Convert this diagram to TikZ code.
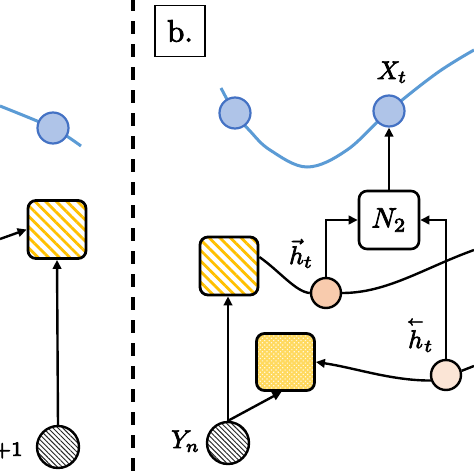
\documentclass[tikz,border=0pt]{standalone}
\usepackage{amsmath}
\usepackage{graphicx}
\usetikzlibrary{arrows.meta,patterns,patterns.meta}
\definecolor{lineblue}{HTML}{5B9BD5}
\definecolor{dotfill}{HTML}{AFC4E8}
\definecolor{dotedge}{HTML}{4472C4}
\definecolor{gold}{HTML}{FFC000}
\definecolor{peach}{HTML}{F8CBAD}
\definecolor{lightpeach}{HTML}{FBE5D6}
\definecolor{meshdots}{HTML}{FFF8E0}
\definecolor{meshyellow}{HTML}{FFD95E}
\newcommand{\thickon}{\special{pdf:literal direct 2 Tr 0.28 w}}
\newcommand{\thickoff}{\special{pdf:literal direct 0 Tr}}
\newcommand{\biglbl}[1]{\scalebox{2.55}{\thickon#1\thickoff}}
\begin{document}
\begin{tikzpicture}[x=1pt,y=-1pt,
  lbl/.style={inner sep=0pt},
  bluedot/.style={circle, draw=dotedge, fill=dotfill, line width=2.2pt, minimum size=31pt, inner sep=0pt},
  blueline/.style={lineblue, line width=3pt},
  hatchbox/.style={draw, rounded corners=8pt, line width=2.8pt, minimum width=58pt, minimum height=58pt, inner sep=0pt,
    preaction={fill=white}, pattern={Lines[angle=-45,distance=7.5pt,line width=2.8pt]}, pattern color=gold},
  meshbox/.style={draw, rounded corners=8pt, line width=2.8pt, minimum width=58pt, minimum height=57pt, inner sep=0pt,
    preaction={fill=meshyellow}, pattern={Dots[angle=45,distance=3.2pt,radius=0.85pt]}, pattern color=meshdots},
  hatchdot/.style={circle, draw, line width=2.4pt, minimum size=42pt, inner sep=0pt,
    preaction={fill=white}, pattern={Lines[angle=-45,distance=3.5pt,line width=0.95pt]}, pattern color=black!85},
  hdot/.style={circle, draw, line width=2.4pt, minimum size=30pt, inner sep=0pt},
  conn/.style={line width=2.4pt},
  arrowconn/.style={line width=2.4pt, -{Triangle[length=9pt,width=8.5pt]}},
]
\fill[white] (0,0) rectangle (474,474);
\useasboundingbox (0,0) rectangle (474,474);

% separator
\draw[line width=3.2pt, dash pattern=on 13pt off 10pt] (133,-2) -- (133,478);

% label box
\node[draw, line width=1.4pt, minimum width=50pt, minimum height=51pt, inner sep=0pt] (blabel) at (180,31) {};
\node[inner sep=0pt] (btext) at (blabel.center) {\scalebox{3.1}{\thickon b.\thickoff}};

% blue curves
\draw[blueline] plot[smooth] coordinates {(0,106) (53,128) (81,146)};
\draw[blueline] plot[smooth, tension=0.6] coordinates {(221,88) (235,113) (250,131) (270,150) (307,167) (347,150) (389,111) (437,73) (474,50)};

% left panel
\node[bluedot] (L1) at (53,128) {};
\node[hatchbox] (Lbox) at (57,229.5) {};
\node[hatchdot] (Lc) at (58,447) {};
\node[lbl, anchor=base east] (Llab) at (24,451) {\scalebox{2.4}{\thickon$Y_{\text{\scalebox{1.2}{$n{+}1$}}}$\thickoff}};
\coordinate (la) at (0,239);
\draw[arrowconn] (Lc.north) -- (Lbox.south);
\draw[arrowconn] (la) -- (Lbox.west);

% right panel
\node[bluedot] (R1) at (235,113) {};
\node[bluedot] (Xt) at (389,111) {};
\node[lbl, anchor=base] (Xtlab) at (392,79) {\biglbl{$X_t$}};

\node[draw, rounded corners=8pt, line width=2.6pt, fill=white, minimum width=60pt, minimum height=58pt, inner sep=0pt] (N2) at (389,220) {};
\node[inner sep=0pt] (N2text) at (N2.center) {\scalebox{2.8}{\thickon$N_2$\thickoff}};

\node[hatchbox] (hb) at (229,266) {};
\node[meshbox] (db) at (285.5,362) {};
\node[hdot, fill=peach] (hf) at (326,293) {};
\node[hdot, fill=lightpeach] (hbw) at (446,375) {};
\node[hatchdot] (Yn) at (228,443) {};

\node[lbl, anchor=base] (hflab) at (301,264) {\biglbl{$\vec{h}_t$}};
\node[lbl, anchor=base] (hbwlab) at (420,348) {\biglbl{$\overset{\scriptscriptstyle\leftarrow}{h}_t$}};
\node[lbl, anchor=base east] (Ynlab) at (200,448) {\biglbl{$Y_n$}};

\coordinate (rt1) at (474,250);
\coordinate (rt2) at (474,366);

\draw[arrowconn] (Yn.north) -- (Yn.north |- hb.south);
\draw[arrowconn] (Yn.north) -- ([xshift=-4pt]db.south);
\draw[conn] ([yshift=9pt]hb.east) .. controls +(20,14) and +(-14,-1) .. (hf.west);
\draw[conn] (hf.east) .. controls +(45,0) and +(-50,18) .. (rt1);
\draw[arrowconn] (hf.north) |- (N2.west);
\draw[arrowconn] (hbw.north) |- (N2.east);
\draw[arrowconn] (N2.north) -- (Xt.south);
\draw[conn] (hbw.15) -- (rt2);
\draw[arrowconn] (hbw.200) .. controls +(-40,0) and +(40,6) .. (db.east);
\end{tikzpicture}
\end{document}
